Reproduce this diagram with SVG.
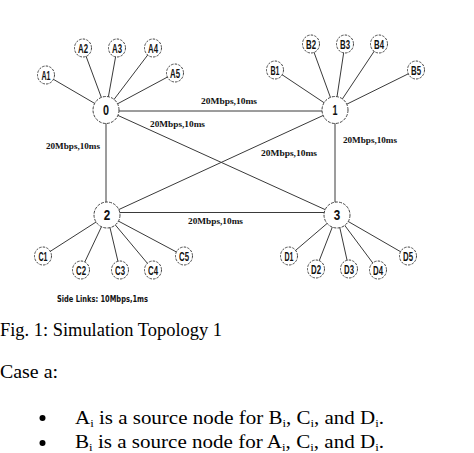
<svg xmlns="http://www.w3.org/2000/svg" width="474" height="453" viewBox="0 0 474 453">
<style>
.ln{stroke:#3a3a3a;stroke-width:1;fill:none}
.main{fill:#fff;stroke:#444;stroke-width:1;stroke-dasharray:3 1.2}
.leaf{fill:#fff;stroke:#444;stroke-width:1;stroke-dasharray:2.5 1.2}
.nl{font-family:"Liberation Sans",Arial,sans-serif;font-weight:bold;font-size:12px;fill:#111;text-anchor:middle}
.ml{font-family:"Liberation Sans",Arial,sans-serif;font-weight:bold;font-size:14px;fill:#111;text-anchor:middle}
.el{font-family:"Liberation Serif","Times New Roman",serif;font-weight:bold;font-size:9px;fill:#111}
.cap{font-family:"Liberation Serif","Times New Roman",serif;font-size:18px;fill:#000}
.sub{font-size:11px}
</style>
<rect width="474" height="453" fill="#fff"/>
<g id="connectors">
<line class="ln" x1="106" y1="111" x2="335" y2="111"/>
<line class="ln" x1="106" y1="110" x2="106" y2="214"/>
<line class="ln" x1="335" y1="110" x2="335" y2="214"/>
<line class="ln" x1="107" y1="212.5" x2="337" y2="212.5"/>
<line class="ln" x1="106" y1="110" x2="337" y2="215"/>
<line class="ln" x1="335" y1="110" x2="107" y2="215"/>
<line class="ln" x1="106" y1="110" x2="46" y2="75"/>
<line class="ln" x1="106" y1="110" x2="83" y2="48"/>
<line class="ln" x1="106" y1="110" x2="117" y2="49"/>
<line class="ln" x1="106" y1="110" x2="153" y2="48"/>
<line class="ln" x1="106" y1="110" x2="175" y2="73"/>
<line class="ln" x1="335" y1="110" x2="275" y2="70"/>
<line class="ln" x1="335" y1="110" x2="311" y2="44"/>
<line class="ln" x1="335" y1="110" x2="345" y2="44"/>
<line class="ln" x1="335" y1="110" x2="379" y2="44"/>
<line class="ln" x1="335" y1="110" x2="416" y2="70"/>
<line class="ln" x1="107" y1="215" x2="43" y2="256"/>
<line class="ln" x1="107" y1="215" x2="81" y2="270"/>
<line class="ln" x1="107" y1="215" x2="120" y2="270"/>
<line class="ln" x1="107" y1="215" x2="153" y2="270"/>
<line class="ln" x1="107" y1="215" x2="184" y2="256"/>
<line class="ln" x1="337" y1="215" x2="289" y2="256"/>
<line class="ln" x1="337" y1="215" x2="316" y2="269"/>
<line class="ln" x1="337" y1="215" x2="349" y2="269"/>
<line class="ln" x1="337" y1="215" x2="378" y2="270"/>
<line class="ln" x1="337" y1="215" x2="408" y2="256"/>
</g>
<g id="edge-labels">
<text class="el" x="201" y="104" textLength="56" lengthAdjust="spacingAndGlyphs">20Mbps,10ms</text>
<text class="el" x="150" y="127" textLength="55" lengthAdjust="spacingAndGlyphs">20Mbps,10ms</text>
<text class="el" x="46" y="149" textLength="54" lengthAdjust="spacingAndGlyphs">20Mbps,10ms</text>
<text class="el" x="343" y="143" textLength="54" lengthAdjust="spacingAndGlyphs">20Mbps,10ms</text>
<text class="el" x="261" y="156" textLength="56" lengthAdjust="spacingAndGlyphs">20Mbps,10ms</text>
<text class="el" x="188" y="224" textLength="55" lengthAdjust="spacingAndGlyphs">20Mbps,10ms</text>
</g>
<g id="n0"><ellipse class="main" cx="106" cy="110" rx="13" ry="13.5"/><text class="ml" x="106" y="115" textLength="6" lengthAdjust="spacingAndGlyphs">0</text></g>
<g id="n1"><ellipse class="main" cx="335" cy="110" rx="13" ry="13.5"/><text class="ml" x="335" y="115" textLength="5" lengthAdjust="spacingAndGlyphs">1</text></g>
<g id="n2"><ellipse class="main" cx="107" cy="215" rx="13" ry="13"/><text class="ml" x="107" y="220" textLength="6.5" lengthAdjust="spacingAndGlyphs">2</text></g>
<g id="n3"><ellipse class="main" cx="337" cy="215" rx="13" ry="13"/><text class="ml" x="337" y="220" textLength="6.5" lengthAdjust="spacingAndGlyphs">3</text></g>
<g id="A1"><ellipse class="leaf" cx="46" cy="75" rx="8.5" ry="9"/><text class="nl" x="46" y="79.5" textLength="9" lengthAdjust="spacingAndGlyphs">A1</text></g>
<g id="A2"><ellipse class="leaf" cx="83" cy="48" rx="8.5" ry="9"/><text class="nl" x="83" y="52.5" textLength="10" lengthAdjust="spacingAndGlyphs">A2</text></g>
<g id="A3"><ellipse class="leaf" cx="117" cy="48" rx="8.5" ry="9"/><text class="nl" x="117" y="52.5" textLength="10" lengthAdjust="spacingAndGlyphs">A3</text></g>
<g id="A4"><ellipse class="leaf" cx="153" cy="48" rx="8.5" ry="9"/><text class="nl" x="153" y="52.5" textLength="10" lengthAdjust="spacingAndGlyphs">A4</text></g>
<g id="A5"><ellipse class="leaf" cx="175" cy="73" rx="8.5" ry="9"/><text class="nl" x="175" y="77.5" textLength="10" lengthAdjust="spacingAndGlyphs">A5</text></g>
<g id="B1"><ellipse class="leaf" cx="275" cy="70" rx="8.5" ry="9"/><text class="nl" x="275" y="74.5" textLength="9" lengthAdjust="spacingAndGlyphs">B1</text></g>
<g id="B2"><ellipse class="leaf" cx="311" cy="44" rx="8.5" ry="9"/><text class="nl" x="311" y="48.5" textLength="10" lengthAdjust="spacingAndGlyphs">B2</text></g>
<g id="B3"><ellipse class="leaf" cx="345" cy="44" rx="8.5" ry="9"/><text class="nl" x="345" y="48.5" textLength="10" lengthAdjust="spacingAndGlyphs">B3</text></g>
<g id="B4"><ellipse class="leaf" cx="379" cy="44" rx="8.5" ry="9"/><text class="nl" x="379" y="48.5" textLength="10" lengthAdjust="spacingAndGlyphs">B4</text></g>
<g id="B5"><ellipse class="leaf" cx="416" cy="70" rx="8.5" ry="9"/><text class="nl" x="416" y="74.5" textLength="10" lengthAdjust="spacingAndGlyphs">B5</text></g>
<g id="C1"><ellipse class="leaf" cx="43" cy="256" rx="8.5" ry="9"/><text class="nl" x="43" y="260.5" textLength="9" lengthAdjust="spacingAndGlyphs">C1</text></g>
<g id="C2"><ellipse class="leaf" cx="81" cy="270" rx="8.5" ry="9"/><text class="nl" x="81" y="274.5" textLength="10" lengthAdjust="spacingAndGlyphs">C2</text></g>
<g id="C3"><ellipse class="leaf" cx="120" cy="270" rx="8.5" ry="9"/><text class="nl" x="120" y="274.5" textLength="10" lengthAdjust="spacingAndGlyphs">C3</text></g>
<g id="C4"><ellipse class="leaf" cx="153" cy="270" rx="8.5" ry="9"/><text class="nl" x="153" y="274.5" textLength="10" lengthAdjust="spacingAndGlyphs">C4</text></g>
<g id="C5"><ellipse class="leaf" cx="184" cy="256" rx="8.5" ry="9"/><text class="nl" x="184" y="260.5" textLength="10" lengthAdjust="spacingAndGlyphs">C5</text></g>
<g id="D1"><ellipse class="leaf" cx="289" cy="256" rx="8.5" ry="9"/><text class="nl" x="289" y="260.5" textLength="9" lengthAdjust="spacingAndGlyphs">D1</text></g>
<g id="D2"><ellipse class="leaf" cx="316" cy="269" rx="8.5" ry="9"/><text class="nl" x="316" y="273.5" textLength="10" lengthAdjust="spacingAndGlyphs">D2</text></g>
<g id="D3"><ellipse class="leaf" cx="349" cy="269" rx="8.5" ry="9"/><text class="nl" x="349" y="273.5" textLength="10" lengthAdjust="spacingAndGlyphs">D3</text></g>
<g id="D4"><ellipse class="leaf" cx="378" cy="270" rx="8.5" ry="9"/><text class="nl" x="378" y="274.5" textLength="10" lengthAdjust="spacingAndGlyphs">D4</text></g>
<g id="D5"><ellipse class="leaf" cx="408" cy="256" rx="8.5" ry="9"/><text class="nl" x="408" y="260.5" textLength="10" lengthAdjust="spacingAndGlyphs">D5</text></g>
<g id="texts">
<text x="57" y="302" font-family="'DejaVu Sans',sans-serif" font-weight="bold" font-size="8" fill="#111" textLength="91" lengthAdjust="spacingAndGlyphs">Side Links: 10Mbps,1ms</text>
<text class="cap" x="0" y="336" textLength="222" lengthAdjust="spacingAndGlyphs">Fig. 1: Simulation Topology 1</text>
<text class="cap" x="0" y="378" textLength="58" lengthAdjust="spacingAndGlyphs">Case a:</text>
<circle cx="42.5" cy="418" r="3" fill="#000"/>
<circle cx="42.5" cy="443" r="3" fill="#000"/>
<text class="cap" x="75" y="424" textLength="309" lengthAdjust="spacingAndGlyphs">A<tspan class="sub" dy="3">i</tspan><tspan dy="-3"> is a source node for B</tspan><tspan class="sub" dy="3">i</tspan><tspan dy="-3">, C</tspan><tspan class="sub" dy="3">i</tspan><tspan dy="-3">, and D</tspan><tspan class="sub" dy="3">i</tspan><tspan dy="-3">.</tspan></text>
<text class="cap" x="75" y="448" textLength="309" lengthAdjust="spacingAndGlyphs">B<tspan class="sub" dy="3">i</tspan><tspan dy="-3"> is a source node for A</tspan><tspan class="sub" dy="3">i</tspan><tspan dy="-3">, C</tspan><tspan class="sub" dy="3">i</tspan><tspan dy="-3">, and D</tspan><tspan class="sub" dy="3">i</tspan><tspan dy="-3">.</tspan></text>
</g>
</svg>
